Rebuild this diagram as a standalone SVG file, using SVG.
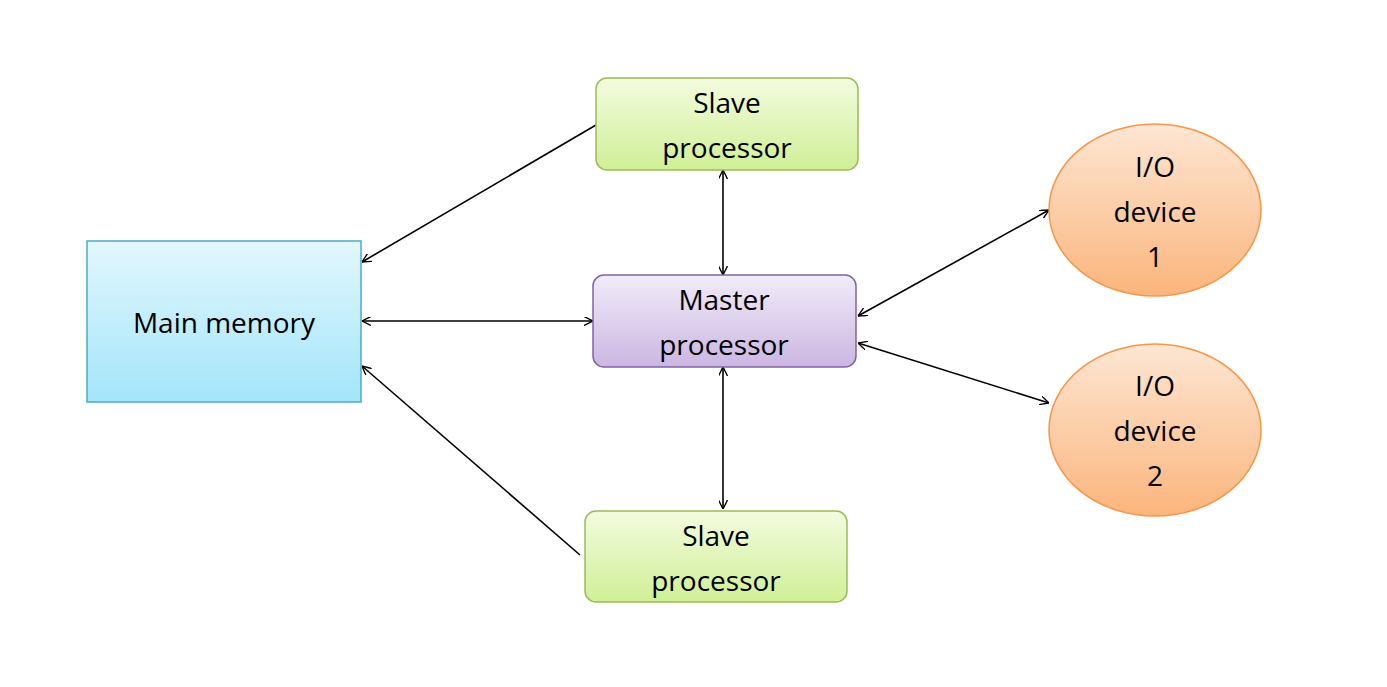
<svg xmlns="http://www.w3.org/2000/svg" width="1387" height="687" viewBox="0 0 1387 687">
<style>
text{font-family:"Open Sans","Liberation Sans",sans-serif;font-size:28px;fill:#000;text-anchor:middle;dominant-baseline:central}
.c{stroke:#000;stroke-width:1.6;fill:none}
</style>
<defs>
<linearGradient id="gb" x1="0" y1="0" x2="0" y2="1"><stop offset="0" stop-color="#e2f7fd"/><stop offset="1" stop-color="#a3e5fa"/></linearGradient>
<linearGradient id="gg" x1="0" y1="0" x2="0" y2="1"><stop offset="0" stop-color="#f3fbdf"/><stop offset="1" stop-color="#d0ef96"/></linearGradient>
<linearGradient id="gp" x1="0" y1="0" x2="0" y2="1"><stop offset="0" stop-color="#f1ecf8"/><stop offset="1" stop-color="#cbb6e2"/></linearGradient>
<linearGradient id="go" x1="0" y1="0" x2="0" y2="1"><stop offset="0" stop-color="#fde6d3"/><stop offset="1" stop-color="#fbb57c"/></linearGradient>
<marker id="a" viewBox="0 0 10 10" refX="10" refY="5" markerWidth="9" markerHeight="9" orient="auto-start-reverse" markerUnits="userSpaceOnUse"><path d="M0,0 L10,5 L0,10" fill="none" stroke="#000" stroke-width="1.5"/></marker>
</defs>
<g id="connectors">
<line class="c" x1="596" y1="125" x2="362" y2="262" marker-end="url(#a)"/>
<line class="c" x1="362" y1="321" x2="593" y2="321" marker-start="url(#a)" marker-end="url(#a)"/>
<line class="c" x1="580" y1="555" x2="362" y2="366" marker-end="url(#a)"/>
<line class="c" x1="723" y1="170" x2="723" y2="275" marker-start="url(#a)" marker-end="url(#a)"/>
<line class="c" x1="723" y1="367" x2="723" y2="509" marker-start="url(#a)" marker-end="url(#a)"/>
<line class="c" x1="858" y1="316" x2="1049" y2="210" marker-start="url(#a)" marker-end="url(#a)"/>
<line class="c" x1="858" y1="343" x2="1049" y2="403" marker-start="url(#a)" marker-end="url(#a)"/>
</g>
<g id="main-memory"><rect x="87" y="241" width="274" height="161" fill="url(#gb)" stroke="#4bacc6" stroke-width="1.5"/><text x="224" y="322">Main memory</text></g>
<g id="slave-top"><rect x="596" y="78" width="262" height="92" rx="11" fill="url(#gg)" stroke="#9bbb59" stroke-width="1.5"/><text x="727" y="102">Slave</text><text x="727" y="147">processor</text></g>
<g id="master"><rect x="593" y="275" width="263" height="92" rx="11" fill="url(#gp)" stroke="#8064a2" stroke-width="1.5"/><text x="724" y="299">Master</text><text x="724" y="344">processor</text></g>
<g id="slave-bottom"><rect x="585" y="511" width="262" height="91" rx="11" fill="url(#gg)" stroke="#9bbb59" stroke-width="1.5"/><text x="716" y="535">Slave</text><text x="716" y="580">processor</text></g>
<g id="io1"><ellipse cx="1155" cy="210" rx="106" ry="86" fill="url(#go)" stroke="#f79646" stroke-width="1.5"/><text x="1155" y="166">I/O</text><text x="1155" y="211">device</text><text x="1155" y="256">1</text></g>
<g id="io2"><ellipse cx="1155" cy="430" rx="106" ry="86" fill="url(#go)" stroke="#f79646" stroke-width="1.5"/><text x="1155" y="385">I/O</text><text x="1155" y="430">device</text><text x="1155" y="475">2</text></g>
</svg>
